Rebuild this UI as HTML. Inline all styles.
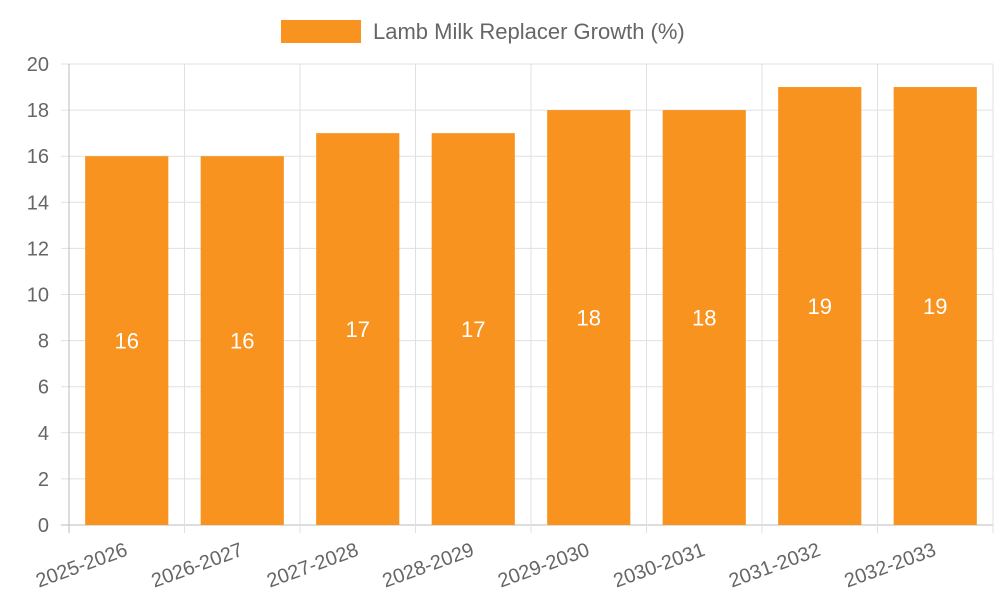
<!DOCTYPE html>
<html><head><meta charset="utf-8"><style>
html,body{margin:0;padding:0;background:#fff;}
svg{display:block;font-family:"Liberation Sans",Arial,sans-serif;}
</style></head><body>
<svg id="chart" width="1000" height="600">
<g id="grid"></g>
<g id="bars"></g>
<g id="axes"></g>
<g>
<rect x="281" y="20" width="80" height="23" fill="#f7931e"/>
<text x="373" y="39" font-size="22" fill="#666">Lamb Milk Replacer Growth (%)</text>
</g>
</svg>
<script>
const categories=["2025-2026","2026-2027","2027-2028","2028-2029","2029-2030","2030-2031","2031-2032","2032-2033"];
const values=[16,16,17,17,18,18,19,19];
const yTicks=[0,2,4,6,8,10,12,14,16,18,20];
const NS="http://www.w3.org/2000/svg";
const L=69,R=993,T=64,B=525,yMax=20;
const bw=(R-L)/categories.length;
const y=v=>B-(v/yMax)*(B-T);
const x=i=>L+i*bw;
function mk(tag,attrs,parent,txt){const e=document.createElementNS(NS,tag);for(const k in attrs)e.setAttribute(k,attrs[k]);if(txt!==undefined)e.textContent=txt;parent.appendChild(e);return e;}
const grid=document.getElementById('grid'),bars=document.getElementById('bars'),axes=document.getElementById('axes');
yTicks.forEach(t=>{
 const l=mk('line',{x1:L-8,x2:R,y1:y(t),y2:y(t),stroke:t===0?'#bbb':'#e0e0e0','stroke-width':1},grid);
 
 
 const tx=mk('text',{x:L-20,y:y(t)+7,'text-anchor':'end','font-size':20,fill:'#666'},axes,String(t));
 
 
});
for(let i=0;i<=categories.length;i++){
 const l=mk('line',{x1:x(i),x2:x(i),y1:T,y2:B+8,stroke:i===0?'#bbb':'#e0e0e0','stroke-width':1},grid);
 
 
}
categories.forEach((c,i)=>{
 const cx=x(i)+bw/2,w=bw*0.72;
 const r=mk('rect',{x:cx-w/2,y:y(values[i]),width:w,height:B-y(values[i]),fill:'#f7931e'},bars);
 
 
 const v=mk('text',{x:cx,y:(y(values[i])+B)/2+8,'text-anchor':'middle','font-size':22,fill:'#fff'},bars,String(values[i]));
 
 
 const tl=mk('text',{x:cx+2,y:B+30,'text-anchor':'end','font-size':20,fill:'#666',transform:`rotate(-20 ${cx+2} ${B+30})`},axes,c);
 
 
});
</script>
</body></html>
